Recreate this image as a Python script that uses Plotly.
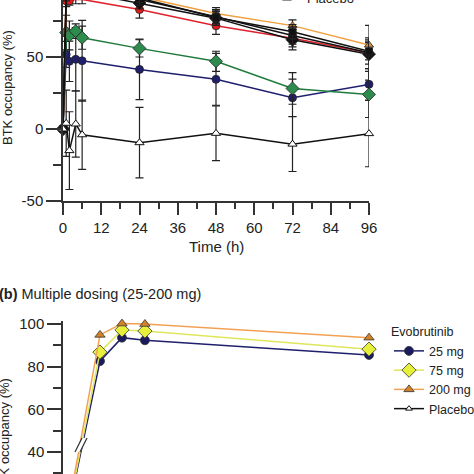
import plotly.graph_objects as go

# (a) single dosing: time after dose (h)
t_single = [0, 1, 2, 4, 6, 24, 48, 72, 96]

occ_1mg = [0, 51.8, 47, 48.4, 47.4, 41.4, 34.5, 21.7, 31]
occ_3mg = [0, 67, 65, 68, 63.4, 56, 47, 28.2, 24]
occ_10mg = [0, 89, 89, 90, 90, 83, 71.7, 63, 53]
occ_25mg = [0, 92, 94, 95, 95, 87.5, 77, 62, 52]
occ_100mg = [0, 94, 96, 97, 97, 90, 78, 65, 53]
occ_200mg = [0, 95, 97, 98, 98, 91, 77.5, 67.5, 54]
occ_500mg = [0, 95, 97, 98, 98, 92, 80.3, 71.8, 58.3]
occ_placebo_a = [0, 4, -15, 3.5, -4, -9.5, -3, -10.5, -3.2]

sd_1mg = [0, 9, 14, 22, 28, 21, 18, 13, 11]
sd_3mg = [0, 12, 10, 5, 8, 6, 7, 11, 16]
sd_10mg = [0, 4, 3, 3, 3, 6, 6, 6, 8]
sd_25mg = [0, 3, 2, 2, 2, 4, 5, 7, 10]
sd_100mg = [0, 3, 2, 2, 2, 4, 5, 6, 19]
sd_200mg = [0, 2, 2, 2, 2, 3, 4, 5, 6]
sd_500mg = [0, 3, 2, 2, 2, 3, 4, 4, 5]
sd_placebo_a = [0, 23, 27, 23, 24, 24.5, 19, 19, 23]

# (b) multiple dosing (its x axis is below the visible part)
t_multi = [0, 11.6, 18.5, 25.7, 96]
occ_b_25 = [0, 82.6, 93.6, 92.4, 85.5]
occ_b_75 = [0, 86.8, 97.2, 96.7, 88.2]
occ_b_200 = [0, 94.9, 100.2, 100, 93.6]
occ_b_placebo = [0, 1, -2, 1, 0]

FONT = "Liberation Sans, Arial, sans-serif"
W = 474.0


def px(x):
    return x / W


def py(y):
    return 1 - y / W


fig = go.Figure()

err = dict(type="data", color="#222", thickness=1.2, width=4)

top = [
    ("1 mg", occ_1mg, sd_1mg, "#1f1f6e", "#1f1f6e", "circle", 8),
    ("3 mg", occ_3mg, sd_3mg, "#1e7b3c", "#2e8b4e", "diamond", 10),
    ("10 mg", occ_10mg, sd_10mg, "#e0202a", "#e31a1c", "circle", 8),
    ("500 mg", occ_500mg, sd_500mg, "#f0a040", "#d98c3a", "triangle-up", 8),
    ("25 mg", occ_25mg, sd_25mg, "#111", "#111", "diamond", 10),
    ("100 mg", occ_100mg, sd_100mg, "#111", "#111", "circle", 8),
    ("200 mg", occ_200mg, sd_200mg, "#111", "#111", "square", 7),
]
for name, y, sd, lc, mc, sym, size in top:
    fig.add_trace(go.Scatter(
        x=t_single, y=y, name=name, mode="lines+markers",
        line=dict(color=lc, width=1.5),
        marker=dict(symbol=sym, size=size, color=mc, line=dict(color="#222", width=0.8)),
        error_y=dict(array=sd, **err), cliponaxis=False,
        xaxis="x", yaxis="y", showlegend=False))

fig.add_trace(go.Scatter(
    x=t_single, y=occ_placebo_a, name="Placebo", mode="lines+markers",
    line=dict(color="#111", width=1.5),
    marker=dict(symbol="triangle-up", size=8, color="white", line=dict(color="#111", width=1)),
    error_y=dict(array=sd_placebo_a, **err), cliponaxis=False,
    xaxis="x", yaxis="y", legend="legend"))

bottom = [
    ("25 mg", occ_b_25, "#1f1f6e", "#1a1a5e", "circle", 9),
    ("75 mg", occ_b_75, "#dfe65a", "#e6ef3a", "diamond", 11),
    ("200 mg", occ_b_200, "#f2a154", "#d4822a", "triangle-up", 9),
]
for name, y, lc, mc, sym, size in bottom:
    fig.add_trace(go.Scatter(
        x=t_multi, y=y, name=name, mode="lines+markers",
        line=dict(color=lc, width=1.5),
        marker=dict(symbol=sym, size=size, color=mc, line=dict(color="#333", width=0.8)),
        cliponaxis=False, xaxis="x2", yaxis="y2", legend="legend2"))

fig.add_trace(go.Scatter(
    x=t_multi, y=occ_b_placebo, name="Placebo", mode="lines+markers",
    line=dict(color="#111", width=1.5),
    marker=dict(symbol="triangle-up", size=6, color="white", line=dict(color="#111", width=1)),
    cliponaxis=False, xaxis="x2", yaxis="y2", legend="legend2"))

axis_font = dict(family=FONT, size=15, color="#222")

# broken-axis marks on the (b) lines
shapes = [
    dict(type="path", xref="paper", yref="paper",
         path="M %f,%f L %f,%f L %f,%f L %f,%f Z" % (
             px(75), py(452), px(82), py(438), px(87), py(438), px(80), py(452)),
         fillcolor="white", line=dict(width=0)),
    dict(type="line", xref="paper", yref="paper", x0=px(75), y0=py(452), x1=px(82), y1=py(438),
         line=dict(color="#333", width=1.2)),
    dict(type="line", xref="paper", yref="paper", x0=px(80), y0=py(452), x1=px(87), y1=py(438),
         line=dict(color="#333", width=1.2)),
]

annotations = [
    dict(text="Time (h)", x=px(216), y=py(247), xref="paper", yref="paper",
         xanchor="center", yanchor="middle", showarrow=False,
         font=dict(family=FONT, size=15, color="#222")),
    dict(text="<b>(b)</b> Multiple dosing (25-200 mg)", x=px(-3), y=py(294),
         xref="paper", yref="paper", xanchor="left", yanchor="middle", showarrow=False,
         font=dict(family=FONT, size=14.5, color="#222")),
    dict(text="BTK occupancy (%)", x=px(8), y=py(88), xref="paper", yref="paper",
         xanchor="center", yanchor="middle", textangle=-90, showarrow=False,
         font=dict(family=FONT, size=13, color="#222")),
    dict(text="BTK occupancy (%)", x=px(4), y=py(436), xref="paper", yref="paper",
         xanchor="center", yanchor="middle", textangle=-90, showarrow=False,
         font=dict(family=FONT, size=13, color="#222")),
]

fig.update_layout(
    width=474, height=474,
    margin=dict(l=0, r=0, t=0, b=0, autoexpand=False),
    paper_bgcolor="white", plot_bgcolor="white",
    font=dict(family=FONT, color="#222"),
    showlegend=True,
    xaxis=dict(domain=[px(63), px(369)], range=[0, 96], anchor="y",
               tickmode="array", tickvals=[0, 12, 24, 36, 48, 60, 72, 84, 96],
               ticks="outside", ticklen=12, tickwidth=1.5, tickcolor="#333",
               minor=dict(tickmode="array", tickvals=[6, 18, 30, 42, 54, 66, 78, 90],
                          ticks="outside", ticklen=6, tickwidth=1.5, tickcolor="#333"),
               showline=True, linecolor="#333", linewidth=1.5, showgrid=False,
               zeroline=False, tickfont=axis_font),
    yaxis=dict(domain=[py(201), 1], range=[-50, 89.6], anchor="x",
               tickmode="array", tickvals=[-50, 0, 50], ticktext=["-50", "0", "50"],
               ticks="outside", ticklen=15, tickwidth=1.5, tickcolor="#333",
               minor=dict(tickmode="array", tickvals=[-25, 25, 75],
                          ticks="outside", ticklen=8, tickwidth=1.5, tickcolor="#333"),
               showline=True, linecolor="#333", linewidth=1.5, showgrid=False,
               zeroline=False, tickfont=axis_font),
    xaxis2=dict(domain=[px(63), px(369)], range=[0, 96], anchor="y2",
                showline=False, showticklabels=False, ticks="", showgrid=False,
                zeroline=False),
    yaxis2=dict(domain=[0, py(320.8)], range=[29.7, 101.5], anchor="x2",
                tickmode="array", tickvals=[40, 60, 80, 100],
                ticks="outside", ticklen=14, tickwidth=1.5, tickcolor="#333",
                minor=dict(tickmode="array", tickvals=[30, 50, 70, 90],
                           ticks="outside", ticklen=8, tickwidth=1.5, tickcolor="#333"),
                showline=True, linecolor="#333", linewidth=1.5, showgrid=False,
                zeroline=False, tickfont=axis_font),
    legend=dict(x=px(267), y=py(-2), xanchor="left", yanchor="middle",
                bgcolor="rgba(0,0,0,0)", font=dict(family=FONT, size=13, color="#222")),
    legend2=dict(x=px(389), y=py(320), xanchor="left", yanchor="top",
                 title=dict(text="Evobrutinib", font=dict(family=FONT, size=12.5, color="#222")),
                 bgcolor="rgba(0,0,0,0)", font=dict(family=FONT, size=12.5, color="#222"),
                 tracegroupgap=0),
    shapes=shapes,
    annotations=annotations,
)

fig.write_html("out.html", config={"displayModeBar": False},
               post_script="document.body.style.margin='0';document.body.style.overflow='hidden';")
